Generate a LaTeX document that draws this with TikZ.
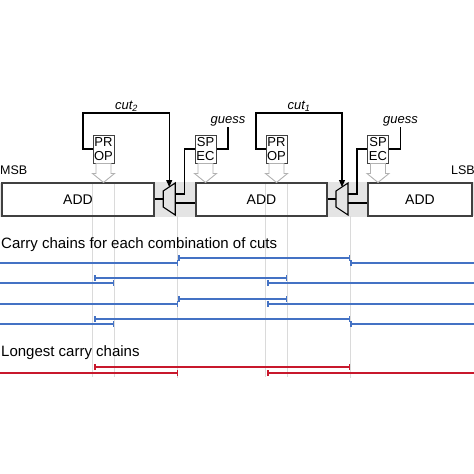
\documentclass[tikz,border=0pt]{standalone}
\usepackage{fontspec}
\setmainfont{Liberation Sans}
\usetikzlibrary{arrows.meta,backgrounds}

\definecolor{chainblue}{RGB}{68,114,196}
\definecolor{chainred}{RGB}{200,24,44}
\definecolor{boxgray}{RGB}{64,64,64}
\definecolor{bandgray}{RGB}{228,228,228}
\definecolor{guidegray}{RGB}{218,218,218}

\tikzset{
	adder/.style={draw=boxgray, line width=1.2pt, minimum height=33pt, inner sep=0pt, font=\fontsize{14}{16}\selectfont},
	logic/.style={draw=boxgray, line width=1pt, minimum width=21pt, minimum height=28pt, inner sep=0pt, align=center, font=\fontsize{13}{14}\selectfont},
	lbl/.style={inner sep=1pt, font=\fontsize{13}{15}\selectfont\itshape},
	side/.style={inner sep=0pt, font=\fontsize{12.5}{15}\selectfont},
	wire/.style={line width=1.1pt, black},
	mux/.style={line width=1.1pt, black, line join=miter},
	blockarrow/.style={draw=gray!60, line width=0.9pt, fill=white},
	guide/.style={guidegray, line width=0.6pt},
	chain/.style={line width=1.5pt, {Bar[width=6pt]}-{Bar[width=6pt]}},
	title/.style={anchor=base west, inner sep=0pt, font=\fontsize{15}{17}\selectfont}
}

\begin{document}
\begin{tikzpicture}[x=1pt, y=-1pt]
	\useasboundingbox (0,0) rectangle (474,474);

	% adders
	\node[adder, minimum width=152pt] (add1) at (78,199.5) {ADD};
	\node[adder, minimum width=131pt] (add2) at (261.5,199.5) {ADD};
	\node[adder, minimum width=104pt] (add3) at (420,199.5) {ADD};
	\node[side, anchor=base west] (msb) at (0,174) {MSB};
	\node[side, anchor=base east] (lsb) at (475,174) {LSB};

	% prop / spec
	\node[logic] (prop1) at (103.5,149) {PR\\OP};
	\node[logic] (spec1) at (205.5,149) {SP\\EC};
	\node[logic] (prop2) at (276.5,149) {PR\\OP};
	\node[logic] (spec2) at (378,149) {SP\\EC};
	\foreach \b in {prop1,spec1,prop2,spec2}
		\draw[blockarrow] (\b.south) ++(-7.5,0) -- ++(0,10) -- ++(-3.5,0) -- ++(11,9) -- ++(11,-9) -- ++(-3.5,0) -- ++(0,-10) -- cycle;

	% muxes
	\foreach \m/\x in {mux1/169.2, mux2/342}
	{
		\draw[mux] (\x-6,191) -- (\x+6,183) -- (\x+6,215) -- (\x-6,207) -- cycle;
		\coordinate (\m-top) at (\x,187);
		\coordinate (\m-out) at (\x-6,199);
		\coordinate (\m-a) at (\x+6,194);
		\coordinate (\m-b) at (\x+6,203);
		\coordinate (\m-g) at (\x+8.5,216);
	}

	\node[lbl, above] (cut2) at (126.5,113) {cut\textsubscript{2}};
	\node[lbl, above] (cut1) at (299,113) {cut\textsubscript{1}};
	\node[lbl, above] (guess1) at (228,127) {guess};
	\node[lbl, above] (guess2) at (400.5,127) {guess};

	\draw[wire, -{Triangle[length=7pt,width=6pt]}] (prop1.west) -- ++(-9.5,0) |- (cut2.south -| mux1-top) -- (mux1-top);
	\draw[wire, -{Triangle[length=7pt,width=6pt]}] (prop2.west) -- ++(-9.5,0) |- (cut1.south -| mux2-top) -- (mux2-top);
	\draw[wire] (spec1.west) -- ++(-10,0) |- (mux1-a);
	\draw[wire] (spec2.west) -- ++(-10,0) |- (mux2-a);
	\draw[wire] (spec1.east) -| (guess1.south);
	\draw[wire] (spec2.east) -| (guess2.south);
	\draw[wire] (add2.west |- mux1-b) -- (mux1-b);
	\draw[wire] (add3.west |- mux2-b) -- (mux2-b);
	\draw[wire] (add1.east |- mux1-out) -- (mux1-out);
	\draw[wire] (add2.east |- mux2-out) -- (mux2-out);

	\begin{scope}[on background layer]
		\fill[bandgray] (add1.north east) rectangle (add2.south west);
		\fill[bandgray] (add2.north east) rectangle (add3.south west);
		\fill[bandgray] (0,183) rectangle (add1.south west);
		\fill[bandgray] (add3.north east) rectangle (474,216);
		\foreach \b in {prop1,prop2}
		{
			\draw[guide] (\b.west |- add1.north) -- ++(0,195);
			\draw[guide] (\b.east |- add1.north) -- ++(0,195);
		}
		\foreach \m in {mux1,mux2}
			\draw[guide] (\m-g) -- ++(0,162);
	\end{scope}

	% carry chains
	\node[title] (tblue) at (1,248) {Carry chains for each combination of cuts};
	\foreach \y/\a/\b/\c/\d in {263/178/178/350/350, 283/114/94/287/267, 304/178/178/287/267, 324/114/94/350/350}
	{
		\draw[chain, chainblue] (-5,\y) -- (\a,\y);
		\draw[chain, chainblue] (\b,\y-5) -- (\c,\y-5);
		\draw[chain, chainblue] (\d,\y) -- (479,\y);
	}
	\node[title] (tred) at (1,356.5) {Longest carry chains};
	\draw[chain, chainred] (-5,373) -- (178,373);
	\draw[chain, chainred] (94,367) -- (350,367);
	\draw[chain, chainred] (267,373) -- (479,373);
\end{tikzpicture}
\end{document}
